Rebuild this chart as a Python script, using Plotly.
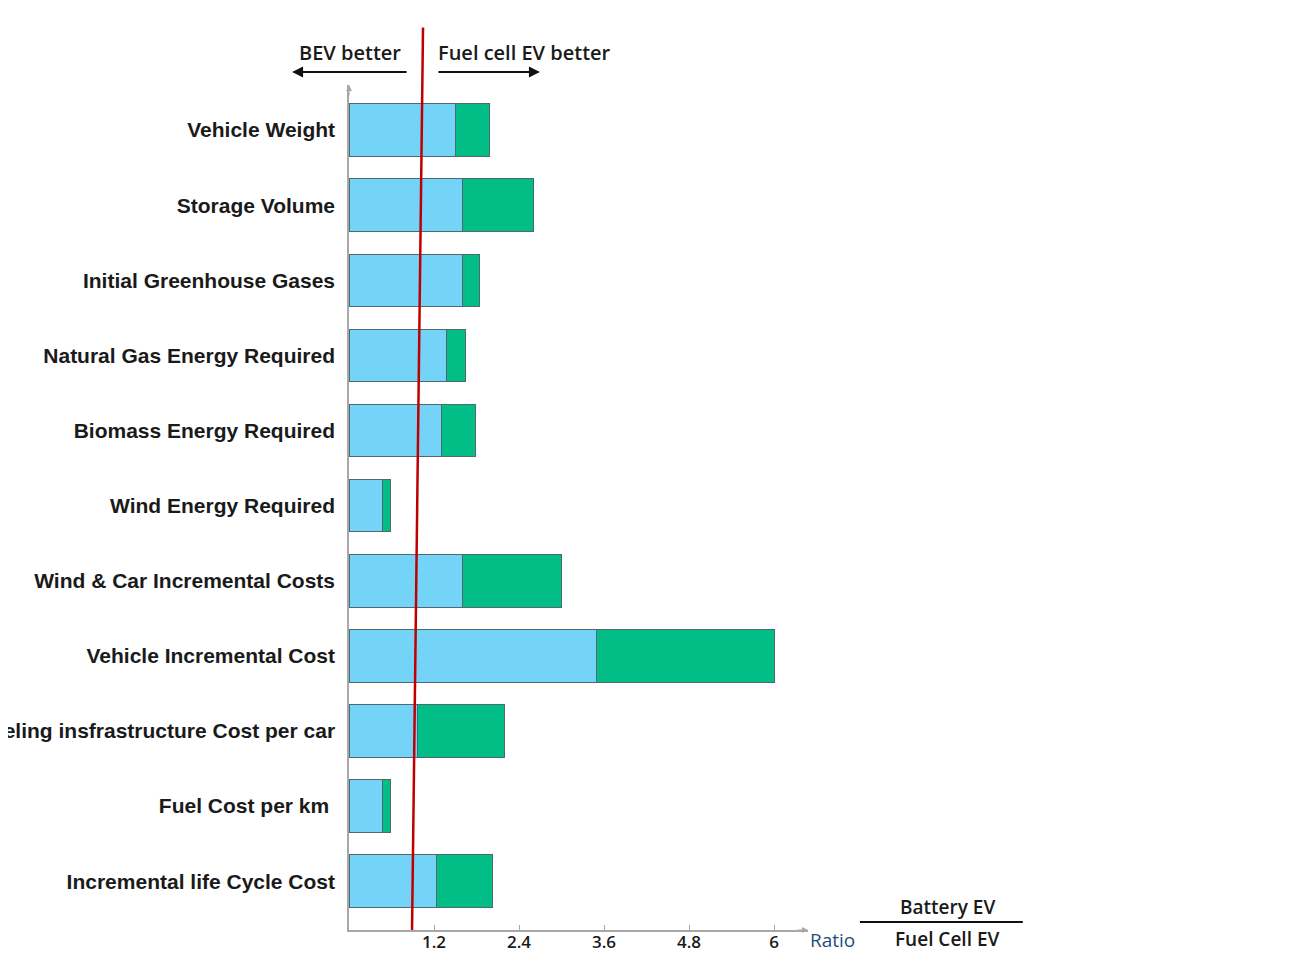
import plotly.graph_objects as go

# ratio Battery EV / Fuel Cell EV
categories = [
    "Vehicle Weight",
    "Storage Volume",
    "Initial Greenhouse Gases",
    "Natural Gas Energy Required",
    "Biomass Energy Required",
    "Wind Energy Required",
    "Wind & Car Incremental Costs",
    "Vehicle Incremental Cost",
    "Refueling insfrastructure Cost per car",
    "Fuel Cost per km ",
    "Incremental life Cycle Cost",
]
blue_end = [1.50, 1.60, 1.60, 1.38, 1.30, 0.47, 1.60, 3.50, 0.97, 0.47, 1.23]
green_end = [1.99, 2.60, 1.84, 1.64, 1.79, 0.59, 3.00, 6.01, 2.19, 0.59, 2.02]
tick_vals = [1.2, 2.4, 3.6, 4.8, 6]
tick_text = ["1.2", "2.4", "3.6", "4.8", "6"]
parity_top, parity_bottom = 1.045, 0.89  # the red line leans a little

BLUE = "#74d4f8"
GREEN = "#00be85"
EDGE = "#50686e"
TEXT = "#1a1a1a"
LABEL_FONT = "Liberation Sans, Arial, sans-serif"
NOTE_FONT = "Open Sans, sans-serif"

green_len = [g - b for g, b in zip(green_end, blue_end)]

fig = go.Figure()
fig.add_trace(go.Bar(y=categories, x=blue_end, orientation="h", width=0.7,
                     marker={"color": BLUE, "line": {"color": EDGE, "width": 1}},
                     showlegend=False))
fig.add_trace(go.Bar(y=categories, x=green_len, orientation="h", width=0.7,
                     marker={"color": GREEN, "line": {"color": EDGE, "width": 1}},
                     showlegend=False))

# page body has an 8px margin, so the figure is a bit smaller than the window
fig.update_layout(
    barmode="stack",
    width=1273,
    height=945,
    plot_bgcolor="white",
    paper_bgcolor="white",
    margin={"l": 341, "r": 473, "t": 77, "b": 23},
    font={"family": LABEL_FONT, "size": 18, "color": TEXT},
)
fig.update_xaxes(
    range=[0, 6.48], tickvals=tick_vals, ticktext=tick_text, automargin=False,
    showline=True, linecolor="#a8a8a8", linewidth=1.5, showgrid=False, zeroline=False,
    ticks="inside", ticklen=5, tickcolor="#a8a8a8", ticklabelstandoff=-4,
    tickfont={"family": NOTE_FONT, "size": 17, "color": TEXT, "weight": 600},
)
fig.update_yaxes(
    range=[10.65, -0.6], showline=True, linecolor="#a8a8a8", linewidth=1.5,
    showgrid=False, ticks="", ticklabelstandoff=8, automargin=False,
    tickfont={"family": LABEL_FONT, "size": 21, "color": TEXT, "weight": "bold"},
)

# parity line
fig.add_shape(type="line", xref="x", yref="paper", x0=parity_top, y0=1.068,
              x1=parity_bottom, y1=0, line={"color": "#c00000", "width": 2.5})

# axis arrowheads
fig.add_annotation(x=0, y=1.0, xref="paper", yref="paper", ax=0, ay=12, text="",
                   showarrow=True, arrowhead=2, arrowsize=1, arrowwidth=1.2, arrowcolor="#a8a8a8")
fig.add_annotation(x=1.0, y=0, xref="paper", yref="paper", ax=-12, ay=0, text="",
                   showarrow=True, arrowhead=2, arrowsize=1, arrowwidth=1.2, arrowcolor="#a8a8a8")

top_note = {"family": NOTE_FONT, "size": 20, "color": TEXT, "weight": 600}
note = {"family": NOTE_FONT, "size": 19, "color": TEXT, "weight": 600}

# direction labels
fig.add_annotation(x=0.002, y=1.038, xref="paper", yref="paper", text="BEV better",
                   showarrow=False, xanchor="center", yanchor="middle", font=top_note)
fig.add_annotation(x=-0.124, y=1.0154, xref="paper", yref="paper", ax=116, ay=0,
                   text="", showarrow=True, arrowhead=2,
                   arrowsize=1.1, arrowwidth=2, arrowcolor="#111111")
fig.add_annotation(x=0.383, y=1.038, xref="paper", yref="paper", text="Fuel cell EV better",
                   showarrow=False, xanchor="center", yanchor="middle", font=top_note)
fig.add_annotation(x=0.416, y=1.0154, xref="paper", yref="paper", ax=-103, ay=0,
                   text="", showarrow=True, arrowhead=2,
                   arrowsize=1.1, arrowwidth=2, arrowcolor="#111111")

# ratio label
fig.add_annotation(x=1.054, y=-0.012, xref="paper", yref="paper", text="Ratio",
                   showarrow=False, xanchor="center", yanchor="middle",
                   font={"family": NOTE_FONT, "size": 19, "color": "#1f4e79"})
fig.add_annotation(x=1.303, y=0.027, xref="paper", yref="paper", text="Battery EV",
                   showarrow=False, xanchor="center", yanchor="middle", font=note)
fig.add_annotation(x=1.303, y=-0.011, xref="paper", yref="paper", text="Fuel Cell EV",
                   showarrow=False, xanchor="center", yanchor="middle", font=note)
fig.add_shape(type="line", xref="paper", yref="paper", x0=1.113, x1=1.468, y0=0.0095, y1=0.0095,
              line={"color": "#111111", "width": 2})

fig.write_html("out.html")
